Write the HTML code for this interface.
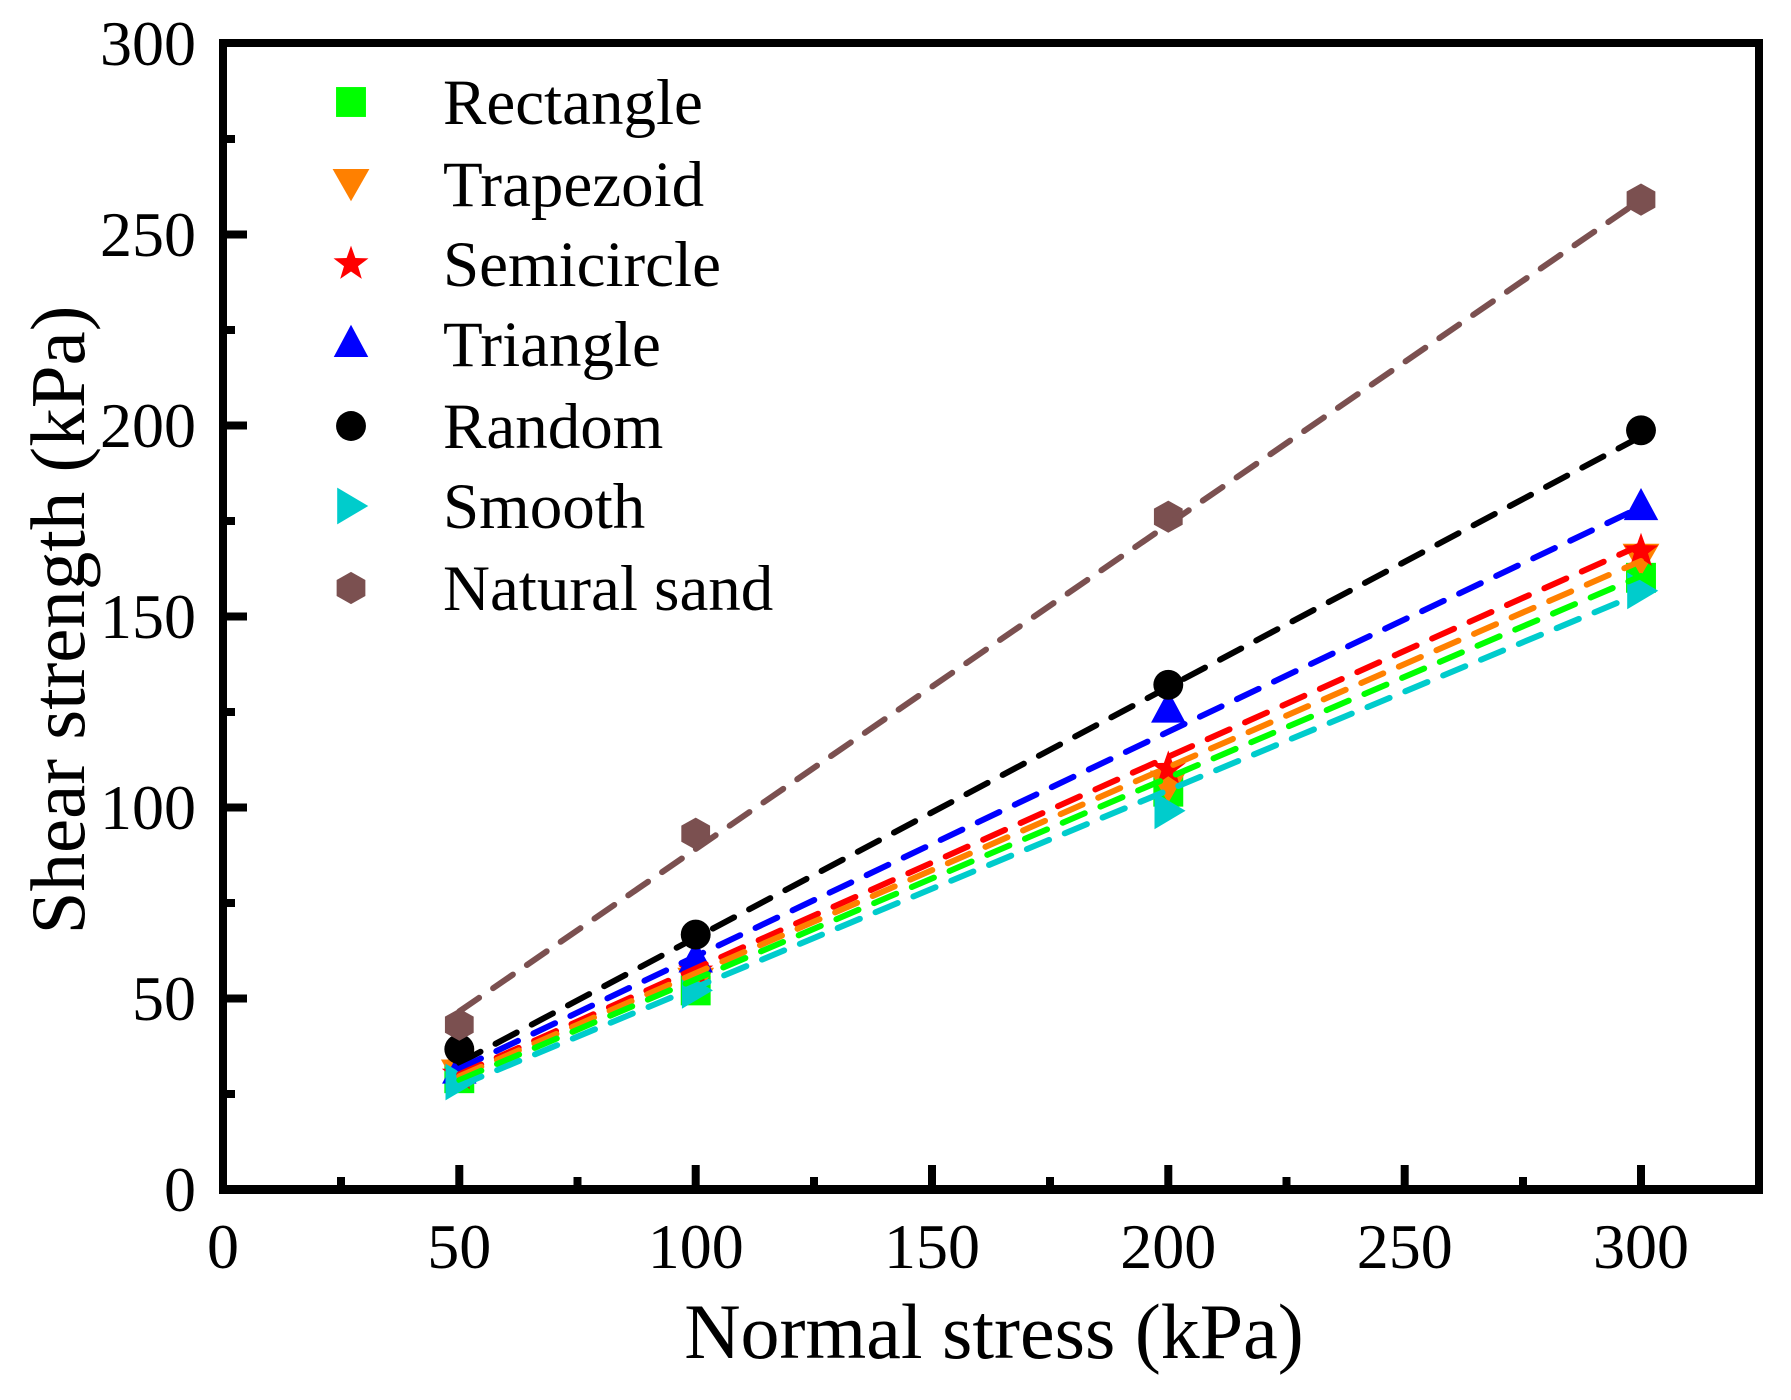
<!DOCTYPE html>
<html><head><meta charset="utf-8"><style>
html,body{margin:0;padding:0;background:#fff;}
svg{display:block;}
text{font-family:"Liberation Serif","Times New Roman",serif;fill:#000;}
</style></head><body>
<svg width="1791" height="1400" viewBox="0 0 1791 1400" xmlns="http://www.w3.org/2000/svg">
<defs>
<g id="sq" transform="scale(1.15)"><rect x="-13" y="-13" width="26" height="26" fill="#00ff00"/></g>
<g id="tdn" transform="scale(1.15)"><polygon points="-16,-13 16,-13 0,15" fill="#ff8000"/></g>
<g id="star" transform="scale(1.15)"><polygon points="0,-16 3.8,-5.2 15.2,-4.9 6.1,2 9.4,12.9 0,6.5 -9.4,12.9 -6.1,2 -15.2,-4.9 -3.8,-5.2" fill="#ff0000"/></g>
<g id="tup" transform="scale(1.15)"><polygon points="-15,13 15,13 0,-15" fill="#0000ff"/></g>
<g id="cir" transform="scale(1.15)"><circle r="13" fill="#000"/></g>
<g id="trt" transform="scale(1.15)"><polygon points="-12,-16 -12,16 15,0" fill="#00cccc"/></g>
<g id="hex" transform="scale(1.15)"><polygon points="0,-14 12.5,-7 12.5,7 0,14 -12.5,7 -12.5,-7" fill="#7b5050"/></g>
</defs>

<g>
<use href="#sq" x="459.3" y="1078.2"/><use href="#sq" x="695.7" y="990.4"/><use href="#sq" x="1168.3" y="791.7"/><use href="#sq" x="1641" y="577.8"/>
<use href="#tdn" x="459.3" y="1074.4"/><use href="#tdn" x="695.7" y="982.7"/><use href="#tdn" x="1168.3" y="785.6"/><use href="#tdn" x="1641" y="558.7"/>
<use href="#star" x="459.3" y="1074.4"/><use href="#star" x="695.7" y="971.3"/><use href="#star" x="1168.3" y="768.8"/><use href="#star" x="1641" y="551.1"/>
<use href="#tup" x="459.3" y="1068.7"/><use href="#tup" x="695.7" y="957.5"/><use href="#tup" x="1168.3" y="707.7"/><use href="#tup" x="1641" y="505.2"/>
<use href="#cir" x="459.3" y="1049.2"/><use href="#cir" x="695.7" y="934.6"/><use href="#cir" x="1168.3" y="684.8"/><use href="#cir" x="1641" y="430.3"/>
<use href="#trt" x="459.3" y="1082"/><use href="#trt" x="695.7" y="990.4"/><use href="#trt" x="1168.3" y="810.8"/><use href="#trt" x="1641" y="590.8"/>
<use href="#hex" x="459.3" y="1024.7"/><use href="#hex" x="695.7" y="833.7"/><use href="#hex" x="1168.3" y="516.7"/><use href="#hex" x="1641" y="199.6"/>
</g>

<g stroke-width="6" stroke-linecap="round" stroke-dasharray="24 17" fill="none">
<line x1="459.3" y1="1011.4" x2="1641" y2="199.6" stroke="#7b5050"/>
<line x1="459.3" y1="1063" x2="1641" y2="436.5" stroke="#000"/>
<line x1="459.3" y1="1068.7" x2="1641" y2="507.1" stroke="#0000ff"/>
<line x1="459.3" y1="1074.4" x2="1641" y2="545" stroke="#ff0000"/>
<line x1="459.3" y1="1076.3" x2="1641" y2="561" stroke="#ff8000"/>
<line x1="459.3" y1="1080.1" x2="1641" y2="576" stroke="#00ff00"/>
<line x1="459.3" y1="1085.9" x2="1641" y2="593" stroke="#00cccc"/>
</g>

<g fill="#000">
<rect x="219" y="39" width="8" height="1155"/>
<rect x="219" y="39" width="1544" height="8"/>
<rect x="1755" y="39" width="8" height="1155"/>
<rect x="219" y="1185" width="1544" height="9"/>
</g>
<g stroke="#000" stroke-width="8">
<line x1="223" y1="234.5" x2="247" y2="234.5"/>
<line x1="223" y1="425.5" x2="247" y2="425.5"/>
<line x1="223" y1="616.5" x2="247" y2="616.5"/>
<line x1="223" y1="807.5" x2="247" y2="807.5"/>
<line x1="223" y1="998.5" x2="247" y2="998.5"/>
<line x1="223" y1="139" x2="235" y2="139"/>
<line x1="223" y1="330" x2="235" y2="330"/>
<line x1="223" y1="521" x2="235" y2="521"/>
<line x1="223" y1="712" x2="235" y2="712"/>
<line x1="223" y1="903" x2="235" y2="903"/>
<line x1="223" y1="1094" x2="235" y2="1094"/>
<line x1="459.3" y1="1189" x2="459.3" y2="1165"/>
<line x1="695.7" y1="1189" x2="695.7" y2="1165"/>
<line x1="932" y1="1189" x2="932" y2="1165"/>
<line x1="1168.3" y1="1189" x2="1168.3" y2="1165"/>
<line x1="1404.7" y1="1189" x2="1404.7" y2="1165"/>
<line x1="1641" y1="1189" x2="1641" y2="1165"/>
<line x1="341" y1="1189" x2="341" y2="1177"/>
<line x1="577.5" y1="1189" x2="577.5" y2="1177"/>
<line x1="814" y1="1189" x2="814" y2="1177"/>
<line x1="1050" y1="1189" x2="1050" y2="1177"/>
<line x1="1286.5" y1="1189" x2="1286.5" y2="1177"/>
<line x1="1523" y1="1189" x2="1523" y2="1177"/>
</g>

<g font-size="64" text-anchor="end">
<text x="196" y="65">300</text>
<text x="196" y="256">250</text>
<text x="196" y="447">200</text>
<text x="196" y="638">150</text>
<text x="196" y="829">100</text>
<text x="196" y="1020">50</text>
<text x="196" y="1211">0</text>
</g>
<g font-size="64" text-anchor="middle">
<text x="223" y="1268">0</text>
<text x="459.3" y="1268">50</text>
<text x="695.7" y="1268">100</text>
<text x="932" y="1268">150</text>
<text x="1168.3" y="1268">200</text>
<text x="1404.7" y="1268">250</text>
<text x="1641" y="1268">300</text>
</g>
<text x="994" y="1358" font-size="78" text-anchor="middle">Normal stress (kPa)</text>
<text transform="translate(84,620) rotate(-90)" font-size="77" text-anchor="middle">Shear strength (kPa)</text>

<use href="#sq" x="351" y="102"/>
<use href="#tdn" x="351" y="184"/>
<use href="#star" x="351" y="264"/>
<use href="#tup" x="351" y="342"/>
<use href="#cir" x="351" y="426"/>
<use href="#trt" x="351" y="506"/>
<use href="#hex" x="351" y="588"/>
<g font-size="65">
<text x="443" y="124">Rectangle</text>
<text x="443" y="206">Trapezoid</text>
<text x="443" y="286">Semicircle</text>
<text x="443" y="366">Triangle</text>
<text x="443" y="448">Random</text>
<text x="443" y="528">Smooth</text>
<text x="443" y="610">Natural sand</text>
</g>
</svg>
</body></html>
